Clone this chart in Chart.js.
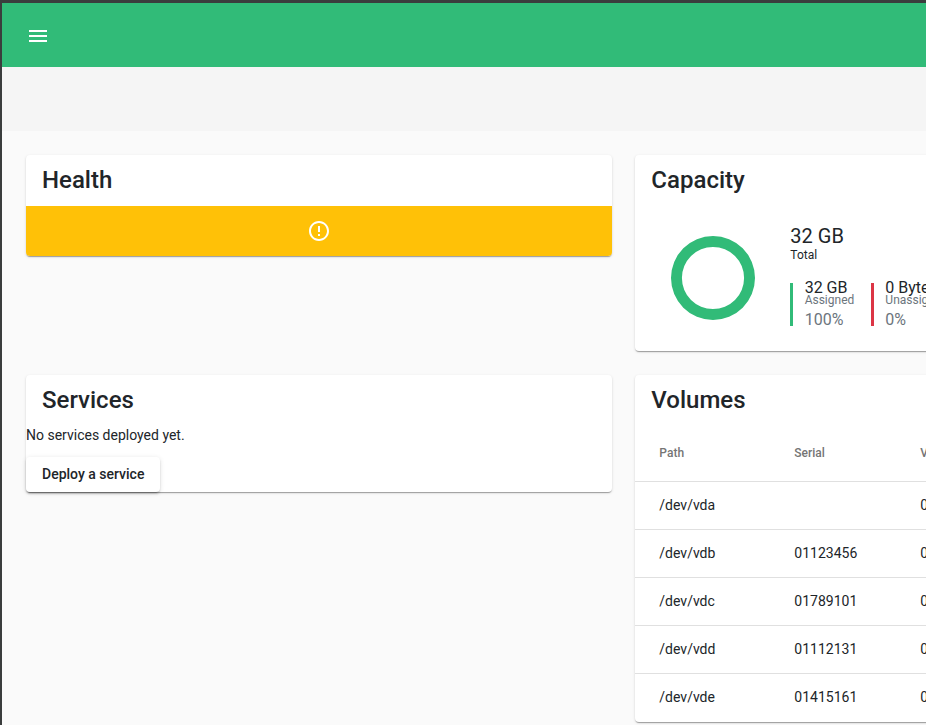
<!DOCTYPE html>
<html lang="en">
<head>
  <meta charset="UTF-8">
  <title>Dashboard</title>
  <script src="https://cdn.jsdelivr.net/npm/chart.js"></script>
  <style>
    html, body { margin: 0; padding: 0; width: 926px; height: 725px; overflow: hidden; }
    body { position: relative; background: #fafafa; color: #212529; font-family: Roboto, sans-serif; }
    .abs, .card, .t { position: absolute; }
    .t { white-space: nowrap; line-height: 20px; }
    .card { background: #fff; border-radius: 4px;
      box-shadow: 0 2px 1px -1px rgba(0,0,0,.2), 0 1px 1px 0 rgba(0,0,0,.14), 0 1px 3px 0 rgba(0,0,0,.12); }
    .title { font-size: 24px; font-weight: 500; line-height: 32px; }
    .muted { color: #6c757d; }
    .rule { position: absolute; left: 0; right: 0; height: 1px; background: #e0e0e0; }
    .head { font-size: 12px; font-weight: 500; color: #757575; }
    .cell { font-size: 14px; color: #212529; }
    .btn { position: absolute; left: 26px; top: 457px; width: 134px; height: 35px; background: #fff; border-radius: 4px;
      box-shadow: 0 3px 1px -2px rgba(0,0,0,.2), 0 2px 2px 0 rgba(0,0,0,.14), 0 1px 5px 0 rgba(0,0,0,.12); }
  </style>
</head>
<body>
  <!-- window edge -->
  <div class="abs" style="left:0;top:0;width:926px;height:3px;background:#3a3d3d"></div>
  <div class="abs" style="left:0;top:0;width:2px;height:725px;background:#3a3d3d"></div>

  <!-- toolbar -->
  <div class="abs" style="left:2px;top:3px;width:924px;height:64px;background:#31bb78"></div>
  <div class="abs" style="left:29px;top:30px;width:18px;height:2px;background:#fff"></div>
  <div class="abs" style="left:29px;top:35px;width:18px;height:2px;background:#fff"></div>
  <div class="abs" style="left:29px;top:40px;width:18px;height:2px;background:#fff"></div>
  <div class="abs" style="left:2px;top:67px;width:924px;height:64px;background:#f5f5f5"></div>

  <!-- health -->
  <div class="card" style="left:26px;top:155px;width:586px;height:101px">
    <div class="t title" style="left:16px;top:9px">Health</div>
    <div class="abs" style="left:0;top:51px;width:586px;height:50px;background:#ffc107;border-radius:0 0 4px 4px"></div>
    <svg class="abs" style="left:281px;top:64px" width="24" height="24" viewBox="0 0 24 24">
      <path fill="#fff" d="M11 15h2v2h-2zm0-8h2v6h-2zm.99-5C6.47 2 2 6.48 2 12s4.47 10 9.99 10C17.52 22 22 17.52 22 12S17.52 2 11.99 2zM12 20c-4.42 0-8-3.58-8-8s3.58-8 8-8 8 3.58 8 8-3.58 8-8 8z"/>
    </svg>
  </div>

  <!-- capacity -->
  <div class="card" style="left:634.67px;top:155px;width:300px;height:196px">
    <div class="t title" style="left:16.7px;top:9px">Capacity</div>
    <div class="abs" style="left:28.33px;top:73px;width:100px;height:100px"><canvas id="capacity"></canvas></div>
    <div class="t" style="left:155.7px;top:71px;font-size:20px">32 GB</div>
    <div class="t" style="left:155.7px;top:90px;font-size:12px">Total</div>
    <div class="abs" style="left:155.33px;top:128px;width:3px;height:43px;background:#31bb78"></div>
    <div class="t" style="left:170px;top:123px;font-size:16px">32 GB</div>
    <div class="t muted" style="left:170px;top:135px;font-size:12px">Assigned</div>
    <div class="t muted" style="left:170px;top:155px;font-size:16px">100%</div>
    <div class="abs" style="left:236.33px;top:128px;width:3px;height:43px;background:#dc3545"></div>
    <div class="t" style="left:250.7px;top:123px;font-size:16px">0 Bytes</div>
    <div class="t muted" style="left:250.7px;top:135px;font-size:12px">Unassigned</div>
    <div class="t muted" style="left:250.7px;top:155px;font-size:16px">0%</div>
  </div>

  <!-- services -->
  <div class="card" style="left:26px;top:375px;width:586px;height:117px">
    <div class="t title" style="left:16px;top:9px">Services</div>
    <div class="t" style="left:0;top:50px;font-size:14px">No services deployed yet.</div>
  </div>
  <div class="btn"><div class="t" style="left:16px;top:7px;font-size:14px;font-weight:500">Deploy a service</div></div>

  <!-- volumes -->
  <div class="card" id="volumes" style="left:634.67px;top:375px;width:300px;height:347px">
    <div class="t title" style="left:16.7px;top:9px">Volumes</div>
  </div>

  <script>
    const capacityLabels = ['Assigned', 'Unassigned'];
    const capacityValues = [32, 0];
    const capacityColors = ['#31bb78', '#dc3545'];

    const volumeHeaders = ['Path', 'Serial', 'Vendor'];
    const volumePaths = ['/dev/vda', '/dev/vdb', '/dev/vdc', '/dev/vdd', '/dev/vde'];
    const volumeSerials = ['', '01123456', '01789101', '01112131', '01415161'];
    const volumeVendors = ['0x1af4', '0x1af4', '0x1af4', '0x1af4', '0x1af4'];

    // table, columns sit at fixed offsets inside the card
    const vol = document.getElementById('volumes');
    const colX = [24.7, 159.7, 285.7];
    function addText(cls, x, y, text) {
      const d = document.createElement('div');
      d.className = 't ' + cls;
      d.style.left = x + 'px';
      d.style.top = y + 'px';
      d.textContent = text;
      vol.appendChild(d);
    }
    volumeHeaders.forEach((h, i) => addText('head', colX[i], 68, h));
    volumePaths.forEach((p, r) => {
      const rule = document.createElement('div');
      rule.className = 'rule';
      rule.style.top = (106 + r * 48) + 'px';
      vol.appendChild(rule);
      const y = 120 + r * 48;
      addText('cell', colX[0], y, p);
      addText('cell', colX[1], y, volumeSerials[r]);
      addText('cell', colX[2], y, volumeVendors[r]);
    });

    new Chart(document.getElementById('capacity'), {
      type: 'doughnut',
      data: {
        labels: capacityLabels,
        datasets: [{ data: capacityValues, backgroundColor: capacityColors, borderWidth: 0 }]
      },
      options: {
        responsive: true,
        maintainAspectRatio: false,
        animation: false,
        radius: 42,
        cutout: '74%',
        plugins: { legend: { display: false }, tooltip: { enabled: false } }
      }
    });
  </script>
</body>
</html>
